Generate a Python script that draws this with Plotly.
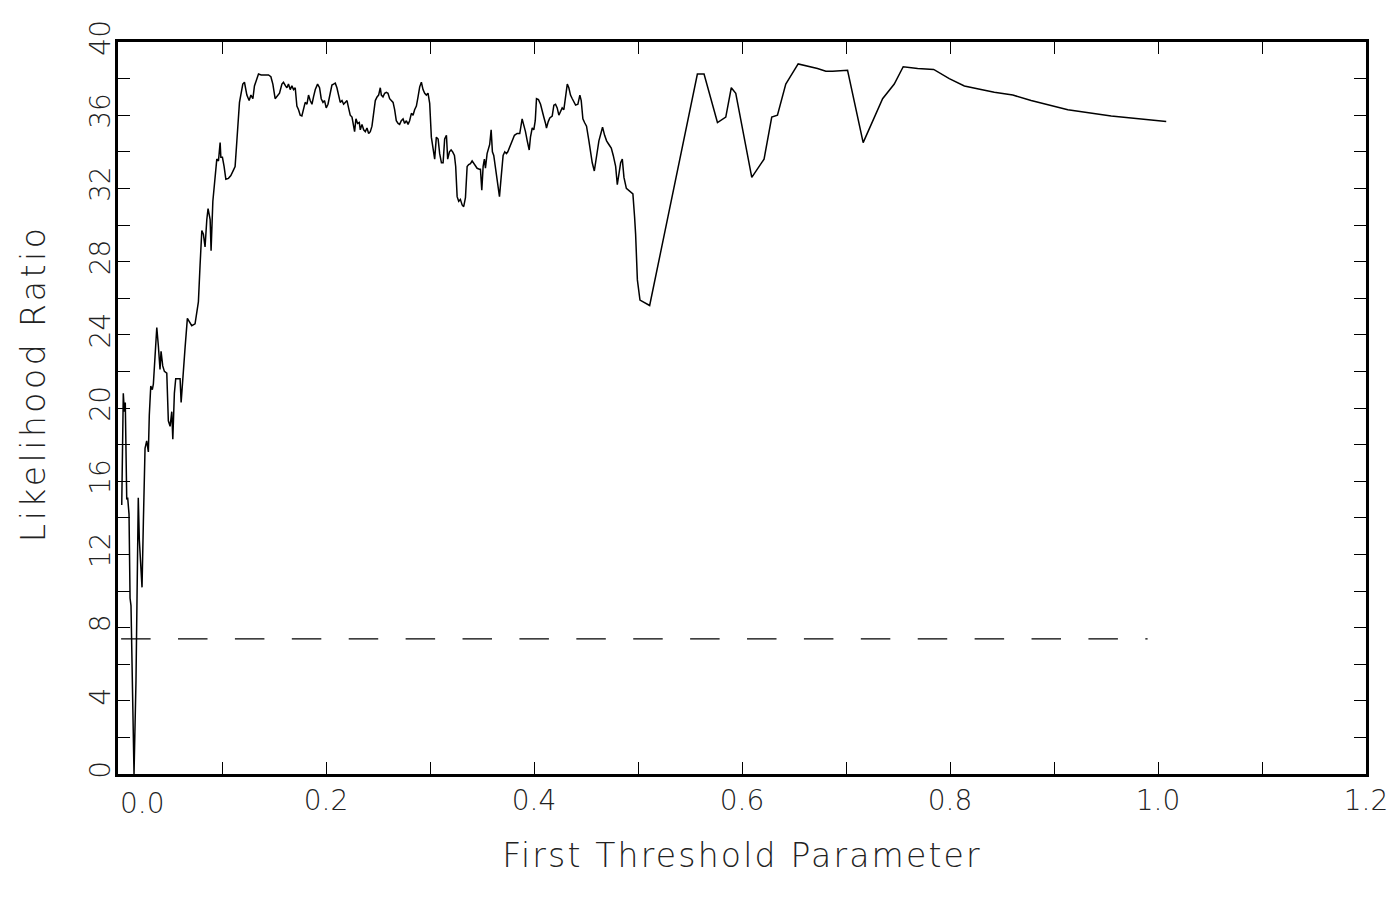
import plotly.graph_objects as go

# First threshold parameter values (x) and likelihood ratio statistic (y)
threshold = [
    0.0036, 0.0051, 0.0061, 0.0070, 0.0084, 0.0093, 0.0106, 0.0116, 0.0125, 0.0147,
    0.0154, 0.0173, 0.0195, 0.0205, 0.0219, 0.0231, 0.0244, 0.0260, 0.0276, 0.0292,
    0.0301, 0.0315, 0.0330, 0.0340, 0.0356, 0.0373, 0.0388, 0.0404, 0.0414, 0.0430,
    0.0446, 0.0469, 0.0484, 0.0501, 0.0517, 0.0527, 0.0542, 0.0555, 0.0581, 0.0597,
    0.0607, 0.0623, 0.0645, 0.0667, 0.0686, 0.0709, 0.0741, 0.0758, 0.0773, 0.0789,
    0.0806, 0.0821, 0.0837, 0.0854, 0.0866, 0.0886, 0.0895, 0.0912, 0.0934, 0.0950,
    0.0966, 0.0982, 0.0989, 0.1004, 0.1020, 0.1037, 0.1062, 0.1085, 0.1110, 0.1126,
    0.1143, 0.1158, 0.1168, 0.1200, 0.1216, 0.1239, 0.1261, 0.1278, 0.1297, 0.1312,
    0.1329, 0.1351, 0.1377, 0.1399, 0.1425, 0.1447, 0.1470, 0.1489, 0.1511, 0.1534,
    0.1553, 0.1576, 0.1591, 0.1611, 0.1624, 0.1639, 0.1656, 0.1672, 0.1688, 0.1704,
    0.1720, 0.1736, 0.1752, 0.1768, 0.1784, 0.1800, 0.1817, 0.1832, 0.1848, 0.1865,
    0.1880, 0.1897, 0.1919, 0.1938, 0.1954, 0.1971, 0.1986, 0.2002, 0.2019, 0.2041,
    0.2057, 0.2073, 0.2089, 0.2105, 0.2121, 0.2137, 0.2154, 0.2169, 0.2185, 0.2202,
    0.2217, 0.2233, 0.2250, 0.2265, 0.2275, 0.2288, 0.2304, 0.2320, 0.2330, 0.2346,
    0.2362, 0.2378, 0.2394, 0.2410, 0.2426, 0.2442, 0.2458, 0.2474, 0.2491, 0.2506,
    0.2522, 0.2532, 0.2548, 0.2564, 0.2580, 0.2596, 0.2612, 0.2628, 0.2645, 0.2660,
    0.2676, 0.2693, 0.2708, 0.2724, 0.2741, 0.2756, 0.2773, 0.2789, 0.2804, 0.2821,
    0.2837, 0.2852, 0.2869, 0.2885, 0.2901, 0.2917, 0.2933, 0.2949, 0.2965, 0.2981,
    0.2997, 0.3013, 0.3030, 0.3045, 0.3061, 0.3078, 0.3093, 0.3110, 0.3126, 0.3141,
    0.3158, 0.3170, 0.3187, 0.3203, 0.3218, 0.3235, 0.3247, 0.3261, 0.3276, 0.3292,
    0.3309, 0.3324, 0.3341, 0.3357, 0.3372, 0.3389, 0.3405, 0.3421, 0.3437, 0.3453,
    0.3475, 0.3485, 0.3498, 0.3511, 0.3523, 0.3533, 0.3549, 0.3565, 0.3574, 0.3588,
    0.3600, 0.3613, 0.3629, 0.3651, 0.3668, 0.3684, 0.3703, 0.3719, 0.3735, 0.3748,
    0.3767, 0.3790, 0.3812, 0.3838, 0.3863, 0.3886, 0.3902, 0.3918, 0.3935, 0.3954,
    0.3966, 0.3983, 0.3998, 0.4012, 0.4024, 0.4043, 0.4063, 0.4079, 0.4094, 0.4111,
    0.4120, 0.4137, 0.4152, 0.4175, 0.4191, 0.4207, 0.4223, 0.4239, 0.4255, 0.4271,
    0.4287, 0.4303, 0.4320, 0.4335, 0.4351, 0.4368, 0.4383, 0.4400, 0.4422, 0.4441,
    0.4454, 0.4470, 0.4486, 0.4505, 0.4528, 0.4544, 0.4560, 0.4580, 0.4599, 0.4624,
    0.4643, 0.4659, 0.4679, 0.4698, 0.4720, 0.4743, 0.4762, 0.4785, 0.4801, 0.4816,
    0.4833, 0.4849, 0.4865, 0.4888, 0.4913, 0.4929, 0.4951, 0.4967, 0.4977, 0.4994,
    0.5019, 0.5112, 0.5571, 0.5635, 0.5764, 0.5844, 0.5897, 0.5940, 0.6020, 0.6094,
    0.6212, 0.6286, 0.6341, 0.6421, 0.6453, 0.6540, 0.6726, 0.6806, 0.6871, 0.7015,
    0.7165, 0.7352, 0.7464, 0.7550, 0.7689, 0.7843, 0.7993, 0.8138, 0.8298, 0.8426,
    0.8604, 0.8780, 0.9133, 0.9550, 1.0079,
]

likelihood_ratio = [
    14.7, 20.8, 19.8, 20.3, 15.0, 15.1, 14.2, 9.6, 9.2, 2.3,
    0.0, 5.1, 15.1, 12.8, 11.3, 10.2, 13.8, 17.8, 18.2, 17.6,
    19.6, 21.2, 21.0, 21.3, 22.8, 24.4, 23.4, 22.1, 23.1, 22.3,
    22.0, 21.9, 19.3, 19.0, 19.8, 18.3, 20.8, 21.6, 21.6, 21.6,
    20.3, 21.8, 23.3, 24.9, 24.7, 24.5, 24.6, 25.2, 25.8, 27.8,
    29.7, 29.5, 28.8, 30.3, 30.9, 30.3, 28.6, 31.3, 32.8, 33.6,
    33.5, 34.5, 33.7, 33.7, 33.2, 32.5, 32.55, 32.7, 33.0, 33.2,
    34.6, 36.3, 36.7, 37.7, 37.8, 37.1, 36.8, 37.1, 36.9, 37.6,
    37.9, 38.25, 38.2, 38.2, 38.2, 38.2, 38.1, 37.7, 36.9, 37.1,
    37.2, 37.7, 37.8, 37.6, 37.5, 37.7, 37.4, 37.6, 37.4, 37.5,
    36.5, 36.3, 36.0, 35.96, 36.3, 36.7, 36.6, 37.1, 36.8, 36.6,
    37.0, 37.4, 37.7, 37.5, 36.9, 36.7, 36.8, 36.4, 36.6, 37.3,
    37.65, 37.7, 37.75, 37.5, 37.1, 36.7, 36.8, 36.6, 36.7, 36.8,
    36.4, 36.0, 35.9, 35.4, 35.1, 35.8, 35.55, 35.6, 35.2, 35.5,
    35.2, 35.1, 35.3, 35.0, 35.1, 35.4, 36.2, 36.8, 37.0, 37.1,
    37.5, 37.1, 37.0, 37.2, 37.25, 37.2, 36.9, 36.8, 36.7, 36.3,
    35.7, 35.55, 35.5, 35.7, 35.8, 35.55, 35.7, 35.5, 35.7, 36.1,
    36.0, 36.3, 36.5, 37.0, 37.55, 37.8, 37.4, 37.2, 37.1, 37.2,
    36.65, 34.8, 34.1, 33.6, 34.8, 34.7, 33.9, 33.4, 33.4, 34.7,
    34.9, 33.6, 34.0, 34.1, 34.0, 33.8, 33.2, 31.55, 31.3, 31.4,
    31.1, 31.0, 31.5, 33.2, 33.3, 33.35, 33.5, 33.35, 33.2, 33.1,
    33.05, 33.05, 31.9, 33.2, 33.6, 33.1, 33.9, 34.2, 34.4, 35.2,
    34.0, 33.8, 33.1, 32.1, 31.55, 32.6, 33.8, 34.0, 33.9, 34.0,
    34.3, 34.6, 34.9, 35.0, 35.0, 35.8, 35.5, 35.1, 34.6, 34.1,
    34.8, 35.3, 35.2, 35.7, 36.9, 36.85, 36.6, 36.3, 35.9, 35.55,
    35.3, 35.65, 35.85, 35.95, 36.55, 36.6, 36.4, 36.0, 36.2, 36.4,
    36.3, 37.0, 37.7, 37.5, 37.1, 36.9, 36.7, 36.55, 36.6, 37.1,
    36.8, 35.8, 35.6, 35.4, 34.6, 34.0, 33.4, 32.95, 33.7, 34.6,
    35.0, 35.35, 34.9, 34.6, 34.4, 34.2, 33.8, 33.2, 32.2, 32.8,
    33.4, 33.6, 32.6, 32.0, 31.9, 31.8, 31.7, 30.45, 29.5, 27.0,
    25.9, 25.6, 38.25, 38.25, 35.6, 35.9, 37.5, 37.2, 34.8, 32.6,
    33.6, 35.9, 36.0, 37.7, 38.0, 38.8, 38.55, 38.4, 38.4, 38.45,
    34.5, 36.9, 37.7, 38.65, 38.55, 38.5, 38.0, 37.6, 37.4, 37.25,
    37.1, 36.8, 36.3, 35.95, 35.65,
]

# critical value (dashed reference line) and its extent
critical_value = 7.38
critical_x = [0.003, 0.990]

x_tick_vals = [0.0, 0.1, 0.2, 0.3, 0.4, 0.5, 0.6, 0.7, 0.8, 0.9, 1.0, 1.1, 1.2]
x_tick_text = ["", "", "0.2", "", "0.4", "", "0.6", "", "0.8", "", "1.0", "", "1.2"]
y_tick_vals = list(range(0, 41, 2))
y_tick_text = [str(v) if v % 4 == 0 else "" for v in y_tick_vals]

FONT = "DejaVu Sans"
TXT = "#222"

fig = go.Figure()
fig.add_trace(go.Scatter(
    x=threshold, y=likelihood_ratio, mode="lines",
    line=dict(color="black", width=1.5), showlegend=False, hoverinfo="skip",
))
fig.add_trace(go.Scatter(
    x=critical_x, y=[critical_value, critical_value], mode="lines",
    line=dict(color="black", width=1.2, dash="29.5px,27.4px"),
    showlegend=False, hoverinfo="skip",
))

axis_common = dict(
    showline=True, linecolor="black", linewidth=2.5, mirror="ticks",
    ticks="inside", ticklen=12, tickwidth=1.4, tickcolor="black",
    showgrid=False, zeroline=False, automargin=False,
    tickfont=dict(family=FONT, size=28, color=TXT, weight=200),
)

fig.update_layout(
    width=1393, height=902,
    margin=dict(l=118, r=27, t=42, b=128),
    paper_bgcolor="white", plot_bgcolor="white",
    xaxis=dict(
        range=[0, 1.2], tickmode="array", tickvals=x_tick_vals, ticktext=x_tick_text,
        title=dict(text="First Threshold Parameter", standoff=28,
                   font=dict(family=FONT, size=33, color=TXT, weight=200)),
        **axis_common,
    ),
    yaxis=dict(
        range=[0, 40], tickmode="array", tickvals=y_tick_vals, ticktext=y_tick_text,
        tickangle=-90, ticklabelstandoff=-6,
        **axis_common,
    ),
)

# y axis title, placed a little above centre as in the original
fig.add_annotation(
    x=-0.068, xref="paper", y=0.534, yref="paper",
    text="Likelihood Ratio", showarrow=False, textangle=-90,
    xanchor="center", yanchor="middle",
    font=dict(family=FONT, size=33, color=TXT, weight=200),
)

# the "0.0" label sits just right of the origin, as in the original
fig.add_annotation(
    x=0.0, xref="x", y=0, yref="paper", yshift=-11,
    text="0.0", showarrow=False, xanchor="left", yanchor="top",
    font=dict(family=FONT, size=28, color=TXT, weight=200),
)

# the original lettering is widely spaced
post = (
    "document.querySelectorAll('.xtitle').forEach(function(e){e.style.letterSpacing='2.2px';});"
    "document.querySelectorAll('.annotation-text').forEach(function(e){"
    "if(e.textContent.indexOf('Likelihood')>=0){e.style.letterSpacing='3.5px';}});"
)

fig.write_html("out.html", post_script=post)
